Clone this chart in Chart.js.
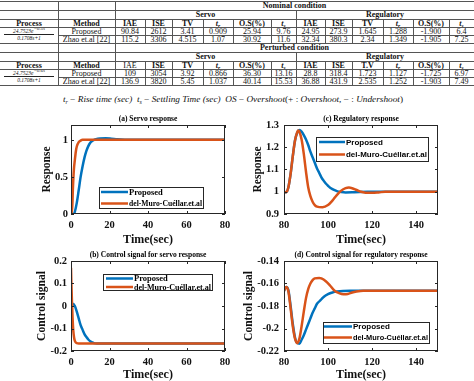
<!DOCTYPE html>
<html>
<head>
<meta charset="utf-8">
<script src="https://cdn.jsdelivr.net/npm/chart.js@4.4.1/dist/chart.umd.min.js"></script>
<style>
  html,body{margin:0;padding:0;background:#fff;}
  body{width:474px;height:381px;position:relative;overflow:hidden;}
  #tbl{position:absolute;left:0;top:0;width:474px;height:90px;}
  .c{position:absolute;text-align:center;font-family:'Liberation Serif','Times New Roman',serif;font-size:8px;color:#111;white-space:nowrap;}
  .b{font-weight:bold;}
  .c sub{font-size:5.5px;vertical-align:-1.5px;line-height:0;}
  .c sup{font-size:5px;vertical-align:3px;line-height:0;}
  .hl{position:absolute;height:1px;background:#555;}
  .vl{position:absolute;width:1px;background:#555;}
  #foot{position:absolute;top:94px;left:0;font-family:'Liberation Serif','Times New Roman',serif;font-size:8.5px;white-space:nowrap;color:#111;}
  #foot sub{font-size:5.5px;vertical-align:-1.5px;line-height:0;}
  canvas{position:absolute;}
</style>
</head>
<body>
<div id="tbl"></div>
<div id="foot"><i>t<sub>r</sub></i> − <i>Rise time (sec)</i>&nbsp;&nbsp;<i>t<sub>s</sub></i> − <i>Settling Time (sec)</i>&nbsp;&nbsp;<i>OS</i> − <i>Overshoot</i>(+ : <i>Overshoot</i>, − : <i>Undershoot</i>)</div>
<canvas id="ca" width="237" height="136" style="left:0;top:111px"></canvas>
<canvas id="cc" width="237" height="136" style="left:237px;top:111px"></canvas>
<canvas id="cb" width="237" height="135" style="left:0;top:247px"></canvas>
<canvas id="cd" width="237" height="135" style="left:237px;top:247px"></canvas>
<script>
// ---------------- DATA ----------------
const seriesNames = ['Proposed', 'del-Muro-Cuéllar.et.al'];
const panelTitles = ['(a) Servo response', '(b) Control signal for servo response', '(c) Regulatory response', '(d) Control signal for regulatory response'];

const servoTicksX = [0, 20, 40, 60, 80];
const regTicksX = [80, 100, 120, 140];
const servoRespTicksY = [0, 0.5, 1];
const servoCtrlTicksY = [-0.2, -0.1, 0, 0.1, 0.2];
const regRespTicksY = [0.9, 1, 1.1, 1.2, 1.3];
const regCtrlTicksY = [-0.22, -0.2, -0.18, -0.16, -0.14];

// (a) servo response
const servoPropT = [0, 1, 1.5, 2, 3, 4, 5, 6, 7, 8, 9, 10, 11, 12, 13, 15, 18, 21, 24, 28, 32, 40, 60, 80];
const servoPropY = [0, 0, 0, 0.03, 0.15, 0.32, 0.5, 0.64, 0.76, 0.85, 0.915, 0.96, 0.985, 1.0, 1.01, 1.018, 1.02, 1.015, 1.008, 1.002, 1.0, 1.0, 1.0, 1.0];
const servoMuroT = [0, 0.5, 1, 1.5, 2, 2.5, 3, 4, 5, 6, 10, 20, 40, 80];
const servoMuroY = [0, 0, 0.35, 0.6, 0.73, 0.84, 0.91, 0.97, 0.99, 1.0, 1.0, 1.0, 1.0, 1.0];

// (b) control signal, servo
const ctrlPropT = [0, 1, 2, 3, 4, 5, 6, 7, 8, 9, 10, 11, 12, 14, 16, 20, 30, 80];
const ctrlPropY = [0, 0.01, 0.0, -0.025, -0.055, -0.085, -0.105, -0.125, -0.138, -0.149, -0.157, -0.162, -0.165, -0.1665, -0.167, -0.1665, -0.1665, -0.1665];
const ctrlMuroT = [0, 0.2, 0.5, 0.8, 1.2, 1.6, 2, 2.5, 3, 4, 5, 80];
const ctrlMuroY = [0.17, 0.1, 0.02, -0.05, -0.11, -0.14, -0.155, -0.162, -0.165, -0.1665, -0.1665, -0.1665];

// (c) regulatory response
const regPropT = [80, 81, 82, 83, 84, 85, 86, 87, 88, 89, 90, 91, 92, 93, 94, 95, 96, 97, 98, 99, 100, 101, 102, 103, 104, 106, 108, 112, 118, 130, 150];
const regPropY = [1.0, 0.998, 1.02, 1.08, 1.16, 1.23, 1.265, 1.277, 1.27, 1.255, 1.235, 1.21, 1.18, 1.155, 1.13, 1.105, 1.085, 1.065, 1.05, 1.037, 1.027, 1.018, 1.012, 1.007, 1.003, 0.999, 0.997, 0.998, 1.0, 1.0, 1.0];
const regMuroT = [80, 81, 82, 83, 84, 85, 86, 86.5, 87, 88, 89, 90, 91, 92, 93, 94, 95, 97.5, 100, 102, 104, 106, 108, 109.5, 111, 113, 115, 117, 120, 123, 126, 150];
const regMuroY = [1.0, 0.998, 1.02, 1.08, 1.16, 1.23, 1.268, 1.275, 1.27, 1.235, 1.17, 1.09, 1.02, 0.98, 0.955, 0.94, 0.933, 0.93, 0.94, 0.96, 0.985, 1.005, 1.016, 1.019, 1.016, 1.008, 1.0, 0.996, 0.995, 0.997, 1.0, 1.0];

// (d) control signal, regulatory
const rctrlPropT = [80, 81, 82, 83, 84, 85, 86, 87, 88, 89, 90, 91, 92, 93, 94, 95, 96, 97, 98, 100, 102, 104, 110, 150];
const rctrlPropY = [-0.1665, -0.163, -0.166, -0.18, -0.196, -0.208, -0.213, -0.2135, -0.21, -0.206, -0.201, -0.196, -0.191, -0.186, -0.182, -0.178, -0.176, -0.174, -0.172, -0.1695, -0.168, -0.1672, -0.1665, -0.1665];
const rctrlMuroT = [80, 81, 82, 83, 84, 85, 86, 87, 88, 89, 90, 91, 92, 93, 94, 96, 97, 99, 101, 103, 105, 107, 109, 111, 113, 116, 120, 124, 150];
const rctrlMuroY = [-0.1665, -0.163, -0.167, -0.182, -0.198, -0.209, -0.213, -0.209, -0.198, -0.185, -0.173, -0.165, -0.16, -0.157, -0.1555, -0.155, -0.1555, -0.158, -0.162, -0.1665, -0.1685, -0.1695, -0.1693, -0.168, -0.1672, -0.1665, -0.1664, -0.1665, -0.1665];

// table
const tableMetricsServo = ['IAE', 'ISE', 'TV', 't_r', 'O.S(%)', 't_s'];
const tableMetricsRegNom = ['IAE', 'ISE', 'TV', 't_r', 'O.S(%)', 't_s'];
const tableMetricsRegPert = ['IAE', 'ISE', 'T.V', 't_r', 'O.S(%)', 't_s'];
const tableMethods = ['Proposed', 'Zhao et.al [22]'];
const nominalProposed = ['90.84', '2612', '3.41', '0.909', '25.94', '9.76', '24.95', '273.9', '1.645', '1.288', '-1.900', '6.4'];
const nominalZhao = ['115.2', '3306', '4.515', '1.07', '30.92', '11.6', '32.34', '380.3', '2.34', '1.349', '-1.905', '7.25'];
const perturbedProposed = ['109', '3054', '3.92', '0.866', '36.30', '13.16', '28.8', '318.4', '1.723', '1.127', '-1.725', '6.97'];
const perturbedZhao = ['136.9', '3820', '5.45', '1.037', '40.14', '15.53', '36.88', '431.9', '2.535', '1.252', '-1.903', '7.49'];

// ---------------- TABLE ----------------
const tbl = document.getElementById('tbl');
const colX = [0, 58, 115, 145, 172, 203, 233, 271, 296, 325, 352, 383, 413, 449, 474];
function cell(x0, x1, y0, y1, html, cls) {
  const d = document.createElement('div');
  d.className = 'c ' + (cls || '');
  d.style.left = x0 + 'px'; d.style.width = (x1 - x0) + 'px';
  d.style.top = y0 + 'px'; d.style.height = (y1 - y0) + 'px';
  d.style.lineHeight = (y1 - y0 + 1) + 'px';
  d.innerHTML = html; tbl.appendChild(d);
}
function hline(y, x0, x1) { const d = document.createElement('div'); d.className = 'hl'; d.style.top = y + 'px'; d.style.left = x0 + 'px'; d.style.width = (x1 - x0) + 'px'; tbl.appendChild(d); }
function vline(x, y0, y1) { const d = document.createElement('div'); d.className = 'vl'; d.style.left = x + 'px'; d.style.top = y0 + 'px'; d.style.height = (y1 - y0) + 'px'; tbl.appendChild(d); }
function fmtMetric(m) {
  if (m === 't_r') return '<i>t</i><sub><i>r</i></sub>';
  if (m === 't_s') return '<i>t</i><sub><i>s</i></sub>';
  return m;
}
function block(y0, title, regHeaders, rowA, rowB, delay, servoIaeBold) {
  const r = [y0, y0 + 9, y0 + 18, y0 + 26, y0 + 34, y0 + 42];
  cell(115, 474, r[0], r[1], title, 'b');
  cell(115, 296, r[1], r[2], 'Servo', 'b');
  cell(296, 474, r[1], r[2], 'Regulatory', 'b');
  cell(0, 58, r[2], r[3], 'Process', 'b');
  cell(58, 115, r[2], r[3], 'Method', 'b');
  const heads = tableMetricsServo.concat(regHeaders);
  heads.forEach((h, i) => cell(colX[i + 2], colX[i + 3], r[2], r[3], fmtMetric(h), (i === 0 && !servoIaeBold) ? '' : 'b'));
  cell(58, 115, r[3], r[4], tableMethods[0]);
  cell(58, 115, r[4], r[5], tableMethods[1]);
  rowA.forEach((v, i) => cell(colX[i + 2], colX[i + 3], r[3], r[4], v));
  rowB.forEach((v, i) => cell(colX[i + 2], colX[i + 3], r[4], r[5], v));
  // process transfer function
  const f = document.createElement('div');
  f.className = 'c';
  f.style.left = '4px'; f.style.width = '50px'; f.style.top = (r[3] + 1) + 'px'; f.style.fontSize = '5.5px'; f.style.lineHeight = '6px';
  f.innerHTML = '<div style="border-bottom:0.8px solid #222;padding:0 1px"><i>24.7523e<sup>−' + delay + 's</sup></i></div><div><i>0.1708s+1</i></div>';
  tbl.appendChild(f);
  for (let i = 0; i <= 5; i++) { if (i === 4) { hline(r[i], 58, 474); } else hline(r[i], 0, 474); }
  vline(296, r[1], r[2]);
  for (let i = 3; i < colX.length - 1; i++) vline(colX[i], r[2], r[5]);
}
block(1, 'Nominal condition', tableMetricsRegNom, nominalProposed, nominalZhao, '0.5', true);
block(43, 'Perturbed condition', tableMetricsRegPert, perturbedProposed, perturbedZhao, '0.6', false);
vline(58, 1, 85); vline(115, 1, 85);
hline(85, 0, 474);

// footnote fit
const foot = document.getElementById('foot');
const fw = foot.getBoundingClientRect().width;
foot.style.transformOrigin = '0 0';
foot.style.transform = 'scaleX(' + (340 / fw) + ')';
foot.style.left = '63px';

// ---------------- CHARTS ----------------
const BLUE = '#0072BD', ORANGE = '#D95319';
const SERIF = "'Liberation Serif','Times New Roman',serif";
const SANS = "'Liberation Sans',Arial,sans-serif";
const zip = (t, y) => t.map((v, i) => ({ x: v, y: y[i] }));

const boxPlugin = {
  id: 'matlabBox',
  afterDatasetsDraw(chart, args, opts) {
    const { ctx, chartArea: a, scales: { x, y } } = chart;
    ctx.save();
    ctx.strokeStyle = '#262626'; ctx.lineWidth = 1;
    ctx.strokeRect(Math.round(a.left) + 0.5, Math.round(a.top) + 0.5, Math.round(a.right - a.left) - 1, Math.round(a.bottom - a.top) - 1);
    const L = 3;
    ctx.beginPath();
    x.ticks.forEach(t => {
      const px = Math.round(x.getPixelForValue(t.value)) + 0.5;
      ctx.moveTo(px, a.bottom); ctx.lineTo(px, a.bottom - L);
      ctx.moveTo(px, a.top); ctx.lineTo(px, a.top + L);
    });
    y.ticks.forEach(t => {
      const py = Math.round(y.getPixelForValue(t.value)) + 0.5;
      ctx.moveTo(a.left, py); ctx.lineTo(a.left + L, py);
      ctx.moveTo(a.right, py); ctx.lineTo(a.right - L, py);
    });
    ctx.stroke();
    // legend box
    const lg = opts.legend;
    const bx = Math.round(a.left + lg.x0), by = Math.round(a.top + lg.y0);
    const bw = lg.x1 - lg.x0, bh = lg.y1 - lg.y0;
    ctx.fillStyle = '#fff'; ctx.fillRect(bx, by, bw, bh);
    ctx.strokeStyle = '#262626'; ctx.lineWidth = 1;
    ctx.strokeRect(bx + 0.5, by + 0.5, bw - 1, bh - 1);
    chart.data.datasets.forEach((ds, i) => {
      const yy = by + lg.rows[i];
      ctx.strokeStyle = ds.borderColor; ctx.lineWidth = 2.5;
      ctx.beginPath(); ctx.moveTo(bx + lg.lx[0], yy); ctx.lineTo(bx + lg.lx[1], yy); ctx.stroke();
      ctx.fillStyle = '#000'; ctx.font = lg.font; ctx.textBaseline = 'middle'; ctx.textAlign = 'left';
      ctx.fillText(ds.label, bx + lg.tx, yy + 0.5, bw - lg.tx - 2);
    });
    ctx.restore();
  }
};

function panel(id, o) {
  const tickFont = { family: SERIF, size: 10.5, weight: 'bold' };
  return new Chart(document.getElementById(id), {
    type: 'line',
    data: {
      datasets: [
        { label: seriesNames[0], data: zip(o.t1, o.y1), borderColor: BLUE, backgroundColor: BLUE, borderWidth: 2.5, pointRadius: 0, cubicInterpolationMode: 'monotone', order: 1 },
        { label: seriesNames[1], data: zip(o.t2, o.y2), borderColor: ORANGE, backgroundColor: ORANGE, borderWidth: 2.5, pointRadius: 0, cubicInterpolationMode: 'monotone', order: 0 }
      ]
    },
    options: {
      responsive: false, animation: false, devicePixelRatio: 1,
      layout: { padding: { left: o.padL, right: o.padR, top: 0, bottom: 0 } },
      plugins: {
        legend: { display: false }, tooltip: { enabled: false },
        title: { display: true, text: o.title, fullSize: false, color: '#000', font: { family: SERIF, size: 7.5, weight: 'bold', lineHeight: 1.2 }, padding: { top: 3.5, bottom: 1.5 } },
        matlabBox: { legend: o.legend }
      },
      scales: {
        x: {
          type: 'linear', min: o.xmin, max: o.xmax,
          afterBuildTicks: s => { s.ticks = o.xticks.map(v => ({ value: v })); },
          afterFit: s => { s.height = o.xh; },
          grid: { display: false, drawTicks: false }, border: { display: false },
          ticks: { font: tickFont, color: '#111', padding: 5, maxRotation: 0, autoSkip: false, callback: v => String(v) },
          title: { display: true, text: 'Time(sec)', color: '#111', font: { family: SERIF, size: 12, weight: 'bold', lineHeight: 1.2 }, padding: 0 }
        },
        y: {
          type: 'linear', min: o.ymin, max: o.ymax,
          afterBuildTicks: s => { s.ticks = o.yticks.map(v => ({ value: v })); },
          afterFit: s => { s.width = o.yw; },
          grid: { display: false, drawTicks: false }, border: { display: false },
          ticks: { font: tickFont, color: '#111', padding: o.ypad, autoSkip: false, callback: v => String(v) },
          title: { display: true, text: o.ytitle, color: '#111', font: { family: SERIF, size: 11.5, weight: 'bold', lineHeight: 1.2 }, padding: 0 }
        }
      }
    },
    plugins: [boxPlugin]
  });
}

panel('ca', {
  title: panelTitles[0], ytitle: 'Response', t1: servoPropT, y1: servoPropY, t2: servoMuroT, y2: servoMuroY,
  xmin: 0, xmax: 80, ymin: 0, ymax: 1.2, xticks: servoTicksX, yticks: servoRespTicksY,
  padL: 40, padR: 12, yw: 31, xh: 33, ypad: 3,
  legend: { x0: 28, x1: 133, y0: 62, y1: 84, rows: [5, 16.5], lx: [2, 29], tx: 30, font: 'bold 8.5px ' + SERIF }
});
panel('cc', {
  title: panelTitles[2], ytitle: 'Response', t1: regPropT, y1: regPropY, t2: regMuroT, y2: regMuroY,
  xmin: 80, xmax: 150, ymin: 0.9, ymax: 1.3, xticks: regTicksX, yticks: regRespTicksY,
  padL: 14, padR: 36, yw: 33, xh: 33, ypad: 5,
  legend: { x0: 32, x1: 145, y0: 12, y1: 37, rows: [5, 17.5], lx: [3, 29], tx: 30, font: 'bold 8px ' + SANS }
});
panel('cb', {
  title: panelTitles[1], ytitle: 'Control signal', t1: ctrlPropT, y1: ctrlPropY, t2: ctrlMuroT, y2: ctrlMuroY,
  xmin: 0, xmax: 80, ymin: -0.2, ymax: 0.2, xticks: servoTicksX, yticks: servoCtrlTicksY,
  padL: 35, padR: 12, yw: 36, xh: 31, ypad: 4,
  legend: { x0: 32, x1: 142, y0: 13, y1: 30, rows: [4.5, 13], lx: [3, 30], tx: 31, font: 'bold 8.5px ' + SERIF }
});
panel('cd', {
  title: panelTitles[3], ytitle: 'Control signal', t1: rctrlPropT, y1: rctrlPropY, t2: rctrlMuroT, y2: rctrlMuroY,
  xmin: 80, xmax: 150, ymin: -0.22, ymax: -0.14, xticks: regTicksX, yticks: regCtrlTicksY,
  padL: 5, padR: 36, yw: 42, xh: 31, ypad: 5,
  legend: { x0: 39, x1: 146, y0: 61, y1: 83, rows: [4.5, 15.5], lx: [1, 29], tx: 30, font: 'bold 8px ' + SANS }
});
</script>
</body>
</html>
